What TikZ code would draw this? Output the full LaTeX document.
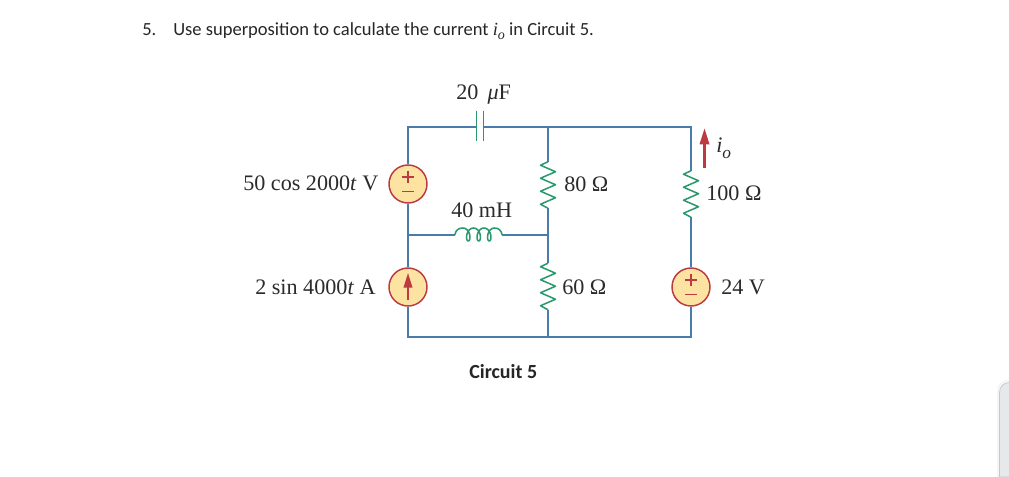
\documentclass[tikz,border=0pt]{standalone}
\usepackage{fontspec}
\setmainfont{Liberation Serif}
\newfontfamily\docfont{Carlito}
\definecolor{wirec}{HTML}{4A7CAB}
\definecolor{compc}{HTML}{2A9A6E}
\definecolor{redc}{HTML}{BC3A40}
\definecolor{srcfill}{HTML}{FCE3A2}
\definecolor{labc}{HTML}{2B2B2B}
\definecolor{panelc}{HTML}{E6E8EB}
\usetikzlibrary{arrows.meta}
\tikzset{
  x=0.75pt,y=-0.75pt,
  wire/.style={draw=wirec,line width=.85pt},
  comp/.style={draw=compc,line width=1.15pt,line join=round},
  src/.style={circle,draw=redc,fill=srcfill,line width=1.1pt,minimum size=28.5pt,inner sep=0pt},
  sign/.style={draw=redc,line width=1pt},
  junction/.style={inner sep=0pt,minimum size=0pt},
  resbox/.style={inner sep=0pt,minimum width=11pt,minimum height=34.5pt},
  capbox/.style={inner sep=0pt,minimum width=4.9pt,minimum height=22.5pt},
  indbox/.style={inner sep=0pt,minimum width=35.25pt,minimum height=10pt},
  lab/.style={text=labc,font=\fontsize{16.6}{18}\selectfont,inner sep=0pt,anchor=base west},
  doc/.style={text=black!85,font=\docfont\fontsize{13.9}{16}\selectfont,inner sep=0pt,anchor=base west},
  ioarrow/.style={draw=redc,line width=1.7pt,-{Triangle[length=12pt,width=7pt]}},
  isarrow/.style={draw=redc,line width=1.3pt,-{Triangle[length=11pt,width=6.5pt]}}
}
\newcommand{\zigzag}[1]{%
  \draw[comp] (#1.north) -- ++(-7.5,3.5) -- ++(15,6.5) -- ++(-15,6.5) -- ++(15,6.5) -- ++(-15,6.5) -- ++(15,6.5) -- ++(-15,6.5) -- (#1.south);}
\newcommand{\plusminus}[1]{%
  \draw[sign] ([xshift=-4.5pt,yshift=5.3pt]#1.center) -- ++(9pt,0);
  \draw[sign] ([yshift=9.8pt]#1.center) -- ++(0,-9pt);
  \draw[sign] ([xshift=-4.5pt,yshift=-5.8pt]#1.center) -- ++(9pt,0);}
\begin{document}
\begin{tikzpicture}
\path[use as bounding box,fill=white] (0,0) rectangle (1009,477);
% corner panel
\fill[black!4] (997,477) -- (997,392) .. controls (997,385) and (1001,380) .. (1009,380) -- (1009,477) -- cycle;
\filldraw[fill=panelc,draw=black!22,line width=.5pt] (1009,477) -- (999.5,477) -- (999.5,393) .. controls (999.5,387) and (1003,383) .. (1009,382.5);
% junctions
\node[junction] (tl) at (408,127) {};
\node[junction] (tm) at (548,127) {};
\node[junction] (tr) at (691,127) {};
\node[junction] (ml) at (408,235) {};
\node[junction] (mm) at (548,235) {};
\node[junction] (bl) at (408,337) {};
\node[junction] (bm) at (548,337) {};
\node[junction] (br) at (691,337) {};
% components
\node[src] (vs) at (408,184) {};
\node[src] (is) at (408,287) {};
\node[src] (vr) at (691,287) {};
\node[capbox] (cap) at (480,126) {};
\node[indbox] (ind) at (478.5,235) {};
\node[resbox] (r80) at (548,185) {};
\node[resbox] (r60) at (548,286.5) {};
\node[resbox] (r100) at (691,194) {};
% wires
\draw[wire] (vs.north) -- (tl.center) -- (cap.west |- tl.center);
\draw[wire] (cap.east |- tr.center) -- (tr.center) -- (r100.north);
\draw[wire] (r100.south) -- (vr.north);
\draw[wire] (vr.south) -- (br.center) -- (bl.center) -- (is.south);
\draw[wire] (is.north) -- (ml.center) -- (vs.south);
\draw[wire] (ml.center) -- (ind.west);
\draw[wire] (ind.east) -- (mm.center);
\draw[wire] (tm.center) -- (r80.north);
\draw[wire] (r80.south) -- (mm.center) -- (r60.north);
\draw[wire] (r60.south) -- (bm.center);
% capacitor
\draw[comp] (cap.north west) -- (cap.south west);
\draw[comp] (cap.north east) -- (cap.south east);
% resistors
\zigzag{r80}
\zigzag{r60}
\zigzag{r100}
% inductor
\draw[comp] (ind.west) .. controls (456,229.5) and (459,228) .. (463,228)
  plot[smooth,domain=0:1080,samples=73,variable=\t] ({463+10.5*\t/360+4*sin(\t)},{234.5-6.5*cos(\t)})
  .. controls (498.5,228) and (501,230) .. (ind.east);
% sources
\plusminus{vs}
\plusminus{vr}
\draw[isarrow] ([yshift=-9.75pt]is.center) -- ([yshift=10.5pt]is.center);
% arrow for i_o
\node[junction] (ia) at (704.5,168) {};
\node[junction] (ib) at (704.5,128) {};
\draw[ioarrow] (ia) -- (ib);
% labels
\node[lab] (l20) at (456,100) {20 \,\textit{μ}F};
\node[lab] (l40) at (451,218) {40 mH};
\node[lab] (l80) at (564,192) {80 Ω};
\node[lab] (l60) at (562,294) {60 Ω};
\node[lab] (l100) at (706,201) {100 Ω};
\node[lab] (l24) at (721,294) {24 V};
\node[lab] (lv) at (243,191) {50 cos 2000\textit{t} V};
\node[lab] (li) at (255,294) {2 sin 4000\textit{t} A};
\node[lab] (lio) at (716,153) {\textit{i}\raisebox{-4pt}{\fontsize{13}{13}\selectfont\textit{o}}};
\node[doc,font=\docfont\bfseries\fontsize{15}{16}\selectfont] (lc) at (469,378) {Circuit 5};
\node[doc] (n5) at (142,36) {5.};
\node[doc] (qq) at (173,36) {Use superposition to calculate the current {\rmfamily\itshape i}\raisebox{-2.5pt}{\fontsize{10.5}{10}\selectfont\rmfamily\itshape o} in Circuit 5.};
\end{tikzpicture}
\end{document}
